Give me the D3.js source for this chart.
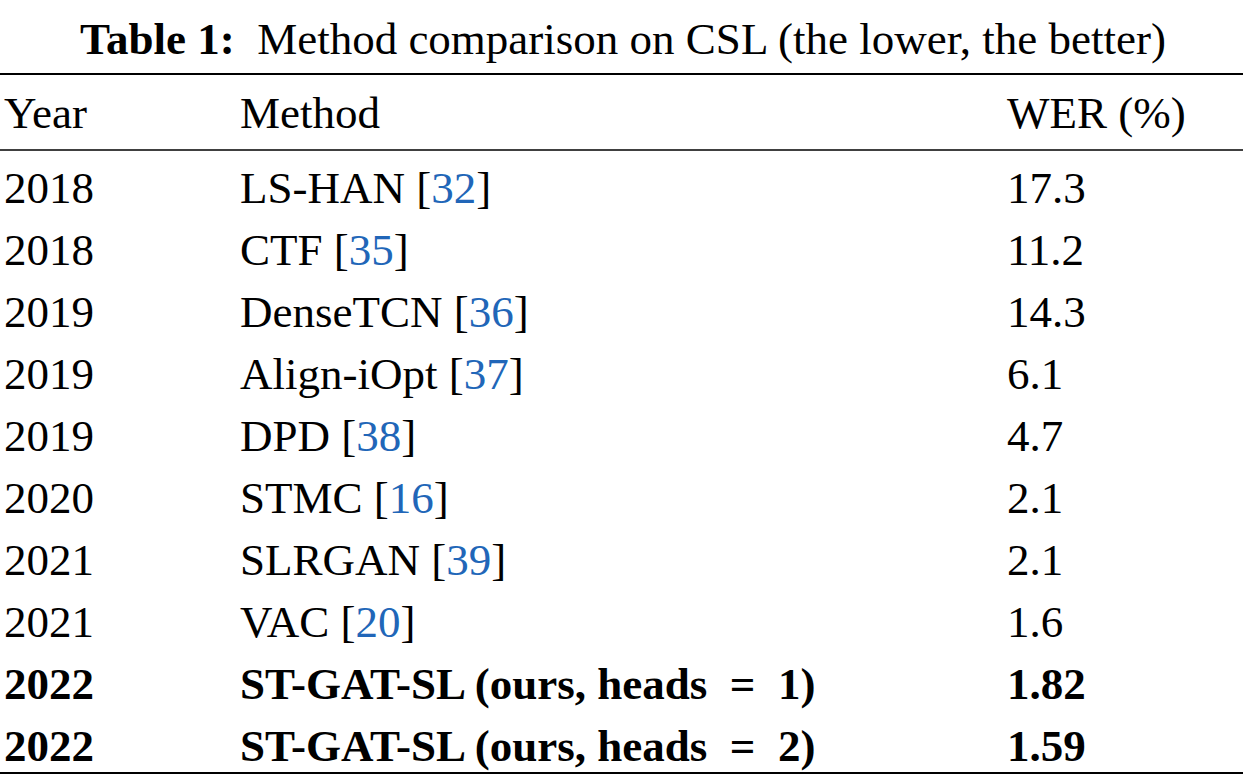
<!DOCTYPE html>
<html><head><meta charset="utf-8">
<script src="https://cdn.jsdelivr.net/npm/d3@7"></script>
<style>body{margin:0;background:#fff}</style>
</head><body>
<script>
const years = ["2018","2018","2019","2019","2019","2020","2021","2021","2022","2022"];
const methods = ["LS-HAN","CTF","DenseTCN","Align-iOpt","DPD","STMC","SLRGAN","VAC","ST-GAT-SL (ours, heads\u2002=\u20021)","ST-GAT-SL (ours, heads\u2002=\u20022)"];
const refs = ["32","35","36","37","38","16","39","20",null,null];
const wers = ["17.3","11.2","14.3","6.1","4.7","2.1","2.1","1.6","1.82","1.59"];
const bold = [false,false,false,false,false,false,false,false,true,true];
const headers = ["Year","Method","WER (%)"];

const W=1246,H=779,font="'Liberation Serif','DejaVu Serif',serif",fs=45;
const svg=d3.select("body").append("svg").attr("width",W).attr("height",H);
const x=d3.scaleOrdinal().domain([0,1,2]).range([4,240,1007]);
const y=d3.scaleBand().domain(d3.range(years.length)).range([157,777]);

const t=svg.append("text").attr("x",623).attr("y",54).attr("text-anchor","middle")
  .attr("font-family",font).attr("font-size",45);
t.append("tspan").attr("font-weight","bold").text("Table 1:");
t.append("tspan").text("\u2002Method comparison on CSL (the lower, the better)");

svg.append("line").attr("x1",0).attr("x2",1243).attr("y1",74).attr("y2",74).attr("stroke","#000").attr("stroke-width",2.2);
svg.append("line").attr("x1",0).attr("x2",1243).attr("y1",150).attr("y2",150).attr("stroke","#000").attr("stroke-width",1.3);
svg.append("line").attr("x1",0).attr("x2",1243).attr("y1",773).attr("y2",773).attr("stroke","#000").attr("stroke-width",2.2);

svg.selectAll("text.h").data(headers).join("text").attr("class","h")
  .attr("x",(d,i)=>x(i)).attr("y",128).attr("font-family",font).attr("font-size",fs).text(d=>d);

const rows=svg.selectAll("g.r").data(years).join("g").attr("class","r")
  .attr("transform",(d,i)=>`translate(0,${y(i)+y.bandwidth()/2+15})`)
  .attr("font-family",font).attr("font-size",fs).attr("font-weight",(d,i)=>bold[i]?"bold":"normal");
rows.append("text").attr("x",x(0)).text(d=>d);
rows.append("text").attr("x",x(1)).each(function(d,i){
  const s=d3.select(this);
  s.append("tspan").text(methods[i]+(refs[i]?" [":""));
  if(refs[i]){s.append("tspan").attr("fill","#2166b8").text(refs[i]);s.append("tspan").text("]");}
});
rows.append("text").attr("x",x(2)).text((d,i)=>wers[i]);
</script>
</body></html>
